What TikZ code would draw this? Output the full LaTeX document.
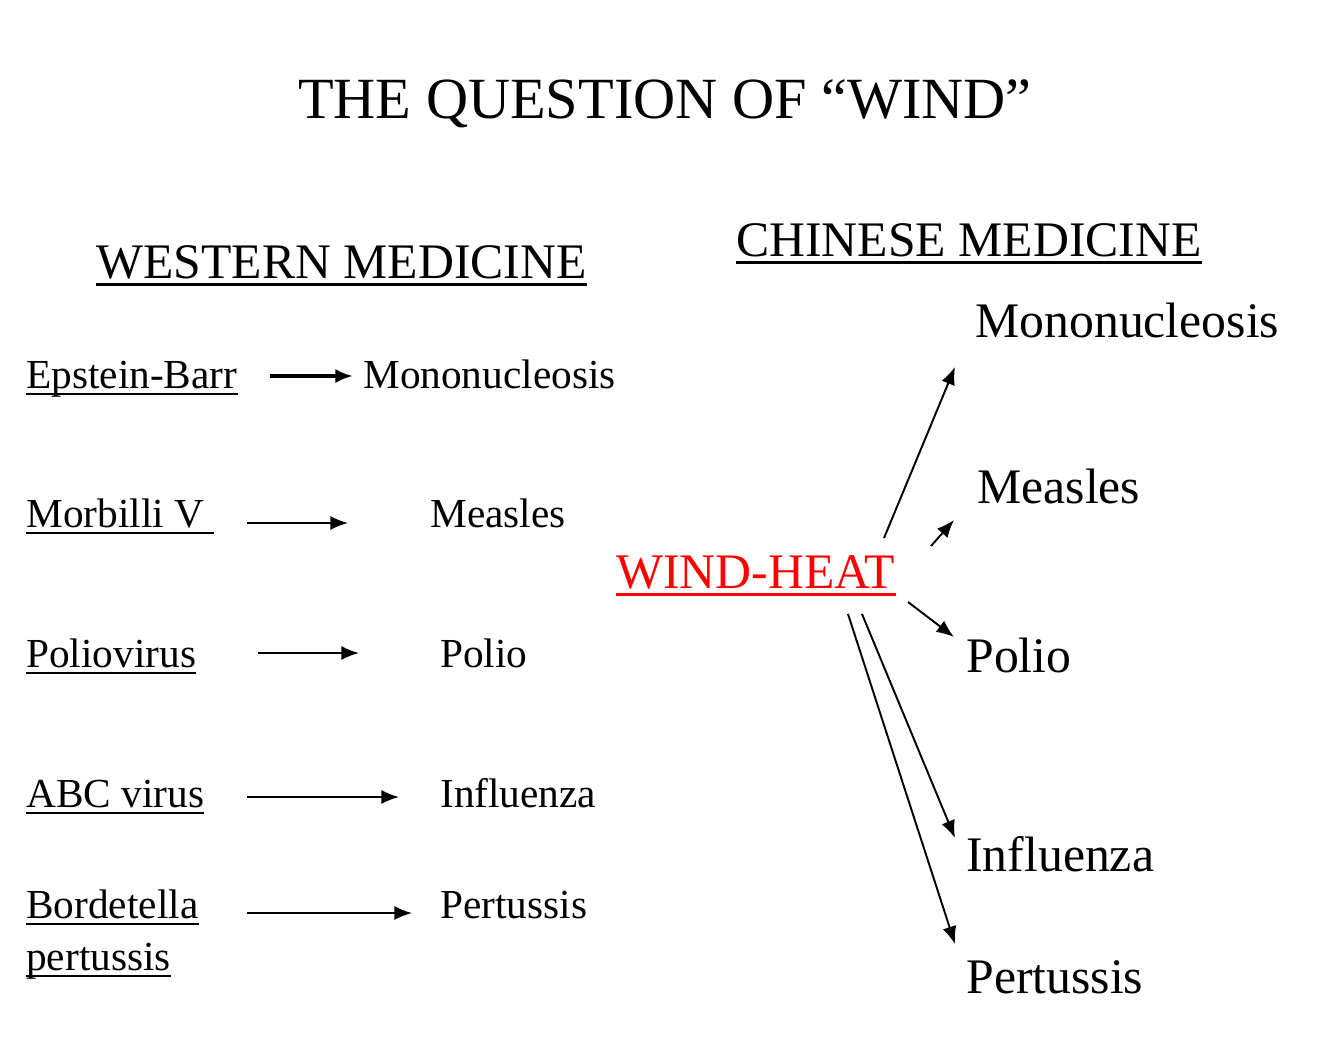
\documentclass[tikz,border=0pt]{standalone}
\usepackage{fontspec}
\setmainfont{Liberation Serif}
\usetikzlibrary{arrows.meta,positioning}

\begin{document}
\begin{tikzpicture}[x=0.02cm,y=-0.02cm,
	every node/.style={inner sep=0pt,anchor=base west},
	small/.style={font=\fontsize{23.5}{28}\selectfont},
	big/.style={font=\fontsize{28.3}{34}\selectfont},
	link/.style={-{Latex[length=10pt,width=8pt]},line width=1.1pt},
	ul/.style={line width=1.1pt}]
	\useasboundingbox (0,0) rectangle (1339,1036);

	\node[anchor=base,font=\fontsize{33.2}{40}\selectfont] (TITLE) at (665,118) {THE QUESTION OF “WIND”};
	\node[big] (WEST) at (96,278) {WESTERN MEDICINE};
	\node[big] (EAST) at (736,256) {CHINESE MEDICINE};

	% western medicine
	\node[small] (EB)  at (26,388) {Epstein-Barr};
	\node[small] (MV)  at (26,527) {Morbilli V\kern5.7pt};
	\node[small] (PV)  at (26,667) {Poliovirus};
	\node[small] (ABC) at (26,807) {ABC virus};
	\node[small] (BP)  at (26,918) {Bordetella};
	\node[small] (BP2) at (26,970) {pertussis};

	\node[small] (MONOw) at (363,388) {Mononucleosis};
	\node[small] (MEASw) at (430,527) {Measles};
	\node[small] (POLw)  at (440,667) {Polio};
	\node[small] (INFw)  at (440,807) {Influenza};
	\node[small] (PERw)  at (440,918) {Pertussis};

	% chinese medicine
	\node[big,text=red] (WH) at (616,588) {WIND-HEAT};
	\node[big] (MONOe) at (975,337) {Mononucleosis};
	\node[big] (MEASe) at (977,503) {Measles};
	\node[big] (POLe)  at (966,672) {Polio};
	\node[big] (INFe)  at (966,871) {Influenza};
	\node[big] (PERe)  at (966,993) {Pertussis};

	\foreach \n in {EB,MV,PV,ABC,BP,BP2}
		\draw[ul] ([yshift=-3.2pt]\n.base west) -- ([yshift=-3.2pt]\n.base east);
	\foreach \n in {WEST,EAST}
		\draw[line width=1.6pt] ([yshift=-3.6pt]\n.base west) -- ([yshift=-3.6pt]\n.base east);
	\draw[line width=1.6pt,red] ([yshift=-3.6pt]WH.base west) -- ([yshift=-3.6pt]WH.base east);

	% arrow ends
	\foreach \n/\xa/\xb/\y in {eb/270/353/376,mv/247/348/523,pv/258/359/653,abc/247/399/797,bp/247/412/913}{
		\coordinate (\n-s) at (\xa,\y);
		\coordinate (\n-e) at (\xb,\y);
	}
	\coordinate (w1-s) at (884,538); \coordinate (w1-e) at (955,367);
	\coordinate (w2-s) at (931,546); \coordinate (w2-e) at (954,520);
	\coordinate (w3-s) at (908,602); \coordinate (w3-e) at (954,637);
	\coordinate (w4-s) at (862,614); \coordinate (w4-e) at (955,838);
	\coordinate (w5-s) at (848,614); \coordinate (w5-e) at (955,944);

	\draw[link,line width=2.3pt] (eb-s) -- (eb-e);
	\foreach \n in {mv,pv,abc,bp,w1,w2,w3,w4,w5}
		\draw[link] (\n-s) -- (\n-e);
\end{tikzpicture}
\end{document}
